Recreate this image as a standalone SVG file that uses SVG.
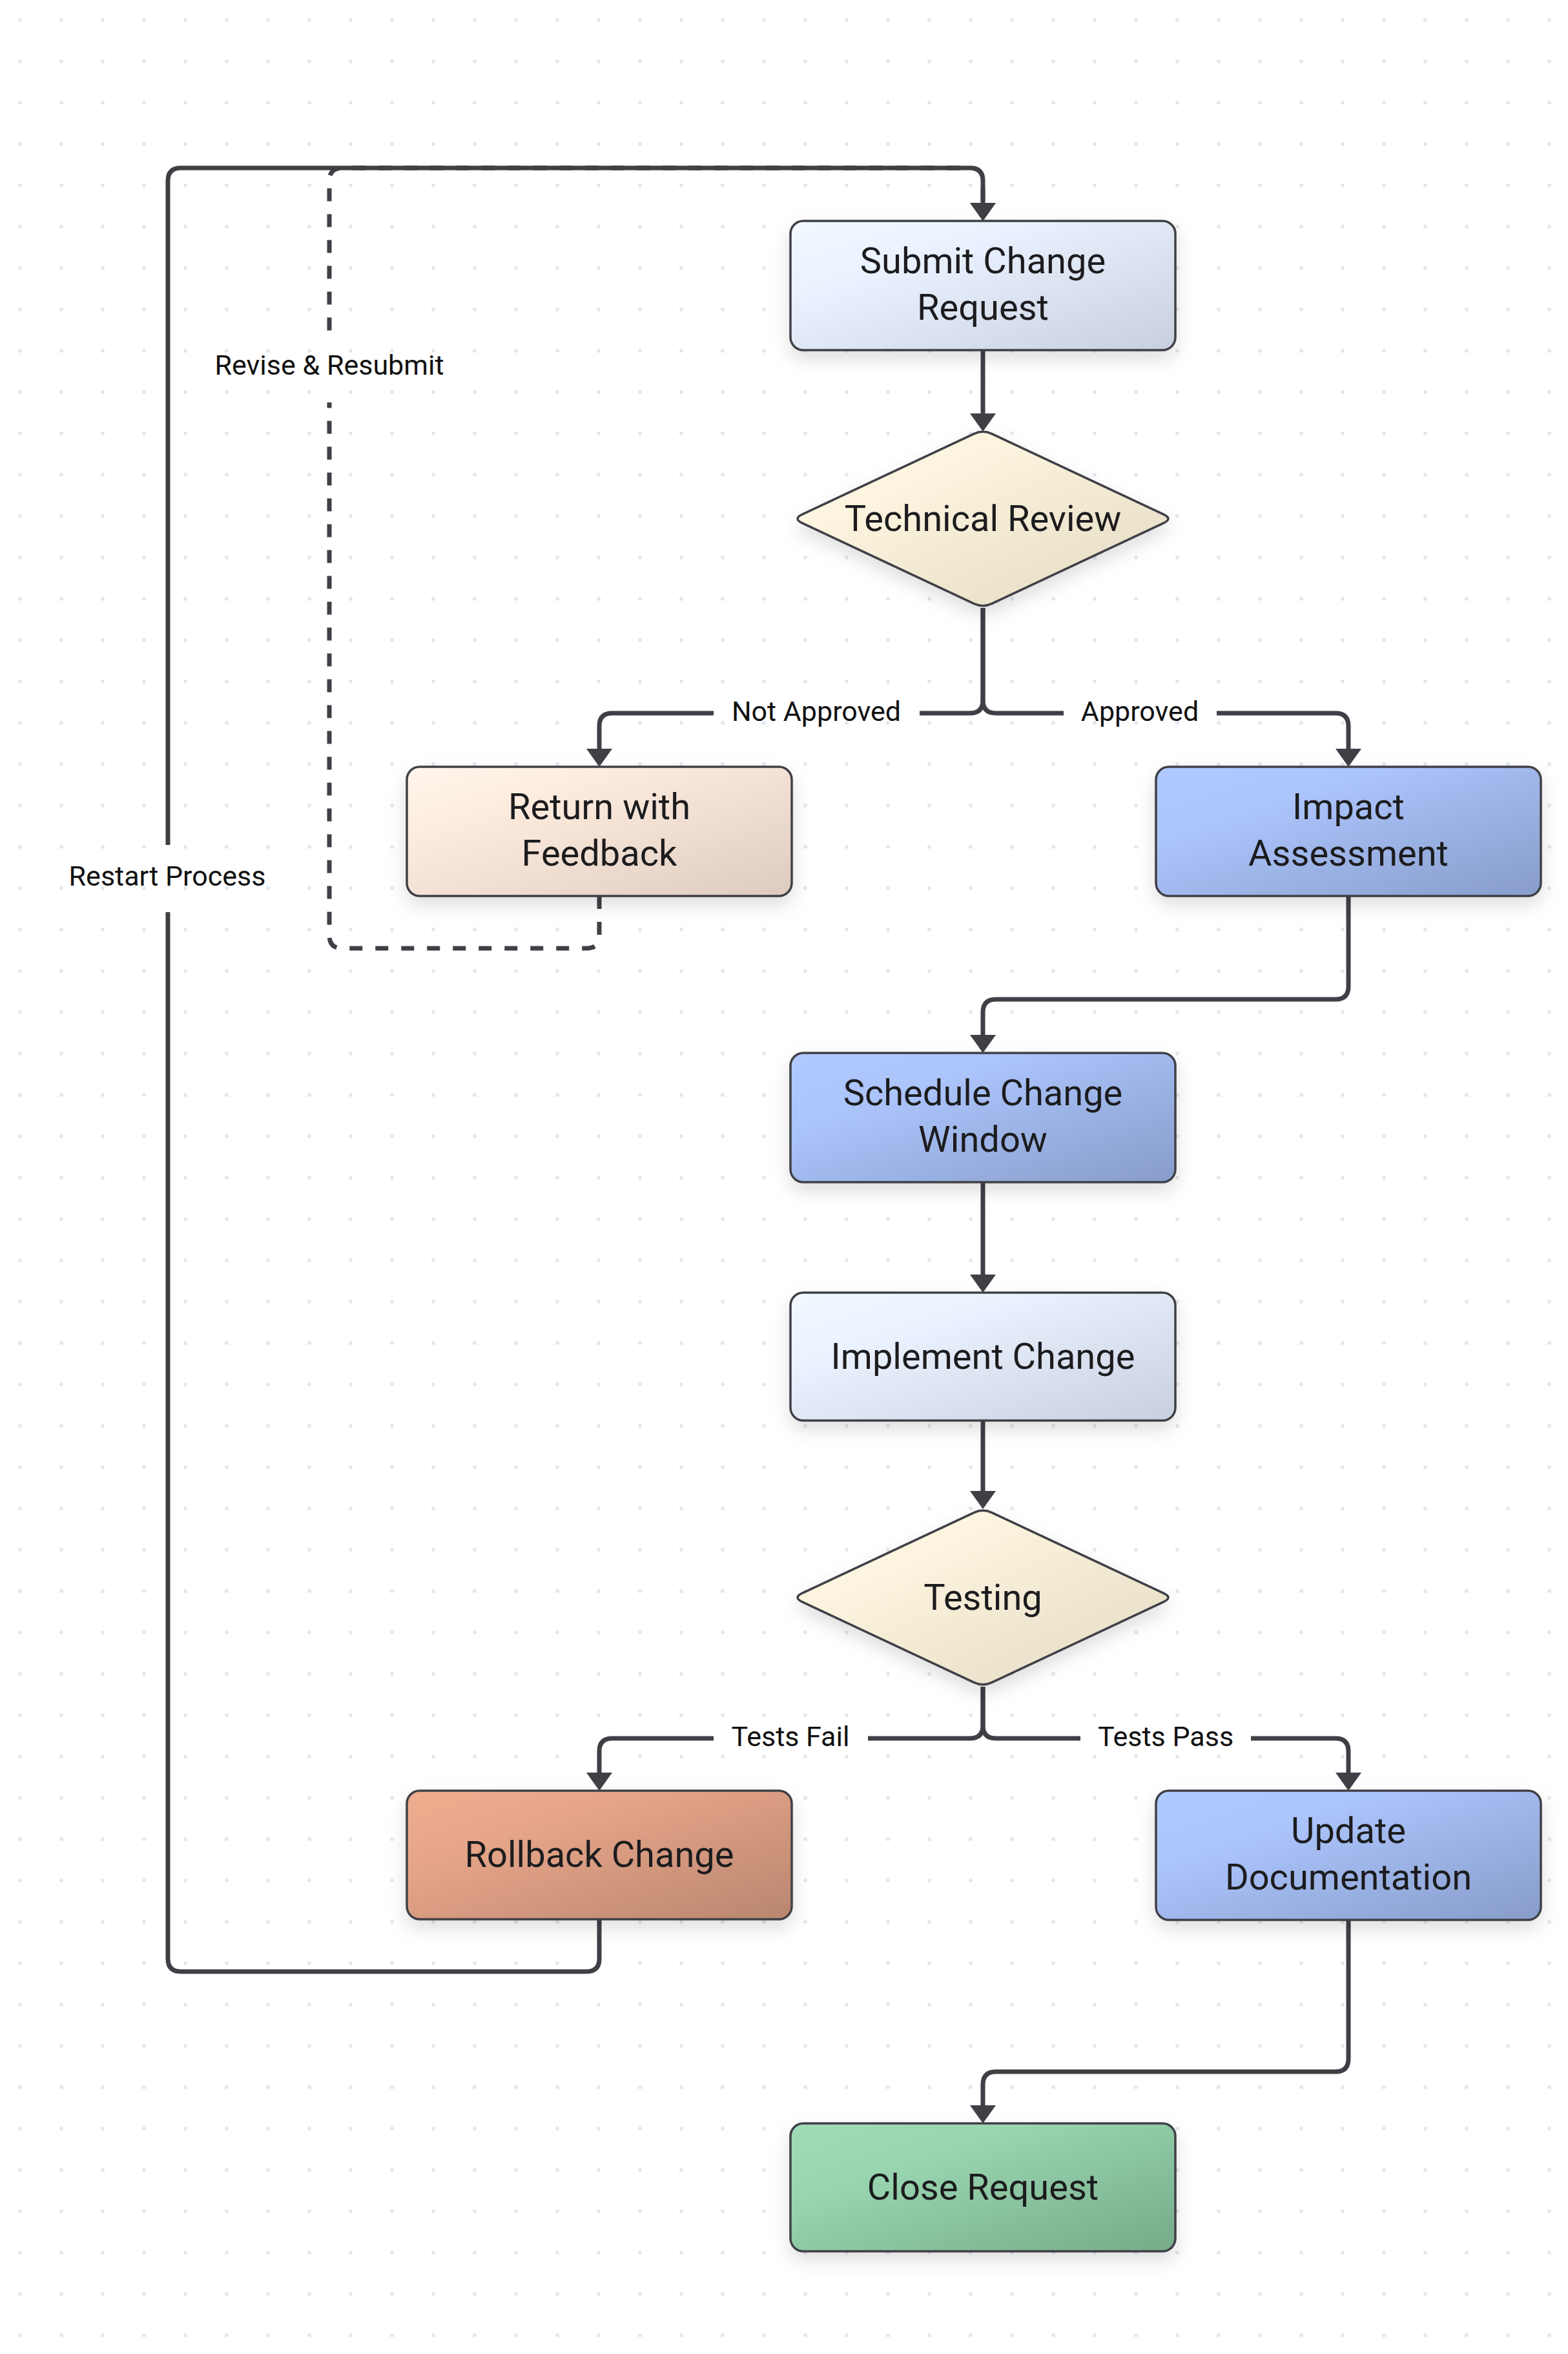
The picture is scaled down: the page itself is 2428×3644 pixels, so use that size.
<svg xmlns="http://www.w3.org/2000/svg" width="2428" height="3644" viewBox="0 0 2428 3644">
<style>
.node-text{font-family:Roboto,"Liberation Sans",sans-serif;font-size:56px;fill:#1c1c1e;text-anchor:middle}
.edge-label{font-family:Roboto,"Liberation Sans",sans-serif;font-size:43px;fill:#111;text-anchor:middle}
.edge{fill:none;stroke:#3f4046;stroke-width:7;stroke-linejoin:round}
.dashed{stroke-dasharray:20 20}
.box{stroke:#3f4046;stroke-width:3.5}
</style>
<defs>
<pattern id="dots" width="64" height="64" patternUnits="userSpaceOnUse">
<circle cx="31" cy="31" r="3" fill="#e2e8f0"/>
</pattern>
<linearGradient id="gNeutral" x1="0" y1="0" x2="1" y2="1">
<stop offset="0" stop-color="#f2f8ff"/><stop offset="0.3" stop-color="#eaf2ff"/><stop offset="1" stop-color="#c8cfdf"/>
</linearGradient>
<linearGradient id="gDecision" x1="0" y1="0" x2="1" y2="1">
<stop offset="0" stop-color="#fff9e4"/><stop offset="0.3" stop-color="#fcf4de"/><stop offset="1" stop-color="#e3d9c2"/>
</linearGradient>
<linearGradient id="gReturn" x1="0" y1="0" x2="1" y2="1">
<stop offset="0" stop-color="#fff6ec"/><stop offset="0.3" stop-color="#fcebdd"/><stop offset="1" stop-color="#ddcbc0"/>
</linearGradient>
<linearGradient id="gBlue" x1="0" y1="0" x2="1" y2="1">
<stop offset="0" stop-color="#b0caff"/><stop offset="0.3" stop-color="#abc4fb"/><stop offset="1" stop-color="#879cca"/>
</linearGradient>
<linearGradient id="gRed" x1="0" y1="0" x2="1" y2="1">
<stop offset="0" stop-color="#f0ae90"/><stop offset="0.3" stop-color="#e6a589"/><stop offset="1" stop-color="#b9866f"/>
</linearGradient>
<linearGradient id="gGreen" x1="0" y1="0" x2="1" y2="1">
<stop offset="0" stop-color="#a0dcb6"/><stop offset="0.3" stop-color="#99d6b0"/><stop offset="1" stop-color="#76aa89"/>
</linearGradient>
<filter id="shadow" x="-20%" y="-20%" width="140%" height="170%">
<feDropShadow dx="0" dy="12" stdDeviation="14" flood-color="#000" flood-opacity="0.13"/>
</filter>
<marker id="arrow" markerUnits="userSpaceOnUse" markerWidth="44" markerHeight="44" viewBox="0 0 44 44" refX="18" refY="22" orient="auto">
<path d="M0,2 L28,22 L0,42 z" fill="#3f4046"/>
</marker>
<mask id="gaps" maskUnits="userSpaceOnUse" x="0" y="0" width="2428" height="3644">
<rect x="0" y="0" width="2428" height="3644" fill="#fff"/>
<rect x="1105" y="1054" width="319" height="100" fill="#000"/>
<rect x="1647" y="1054" width="237" height="100" fill="#000"/>
<rect x="1105" y="2641" width="239" height="100" fill="#000"/>
<rect x="1673" y="2641" width="264" height="100" fill="#000"/>
<rect x="304" y="512" width="412" height="111" fill="#000"/>
<rect x="79" y="1308" width="360" height="104" fill="#000"/>
</mask>
</defs>
<rect x="0" y="0" width="2428" height="3644" fill="#fff"/>
<rect x="0" y="0" width="2428" height="3644" fill="url(#dots)"/>

<g id="connectors">
<g mask="url(#gaps)">
<path class="edge dashed" d="M928 1387 V1448 Q928 1468 908 1468 H530 Q510 1468 510 1448 V280 Q510 260 530 260 H1502 Q1522 260 1522 280 V332" marker-end="url(#arrow)"/>
<path class="edge" d="M928 2971 V3032 Q928 3052 908 3052 H280 Q260 3052 260 3032 V280 Q260 260 280 260 H1502 Q1522 260 1522 280 V332" marker-end="url(#arrow)"/>
<path class="edge" d="M1522 542 V658" marker-end="url(#arrow)"/>
<path class="edge" d="M1522 941 V1084 Q1522 1104 1502 1104 H948 Q928 1104 928 1124 V1177" marker-end="url(#arrow)"/>
<path class="edge" d="M1522 941 V1084 Q1522 1104 1542 1104 H2068 Q2088 1104 2088 1124 V1177" marker-end="url(#arrow)"/>
<path class="edge" d="M2088 1387 V1527 Q2088 1547 2068 1547 H1542 Q1522 1547 1522 1567 V1620" marker-end="url(#arrow)"/>
<path class="edge" d="M1522 1830 V1991" marker-end="url(#arrow)"/>
<path class="edge" d="M1522 2199 V2326" marker-end="url(#arrow)"/>
<path class="edge" d="M1522 2611 V2671 Q1522 2691 1502 2691 H948 Q928 2691 928 2711 V2762" marker-end="url(#arrow)"/>
<path class="edge" d="M1522 2611 V2671 Q1522 2691 1542 2691 H2068 Q2088 2691 2088 2711 V2762" marker-end="url(#arrow)"/>
<path class="edge" d="M2088 2972 V3187 Q2088 3207 2068 3207 H1542 Q1522 3207 1522 3227 V3277" marker-end="url(#arrow)"/>
</g>
<g id="edge-labels">
<text class="edge-label" x="1264" y="1116">Not Approved</text>
<text class="edge-label" x="1765" y="1116">Approved</text>
<text class="edge-label" x="1224" y="2703">Tests Fail</text>
<text class="edge-label" x="1805" y="2703">Tests Pass</text>
<text class="edge-label" x="510" y="580">Revise &amp; Resubmit</text>
<text class="edge-label" x="259" y="1371">Restart Process</text>
</g>
</g>

<g id="node-submit">
<rect class="box" x="1224" y="342" width="596" height="200" rx="20" fill="url(#gNeutral)" filter="url(#shadow)"/>
<text class="node-text" x="1522" y="423">Submit Change</text>
<text class="node-text" x="1522" y="495">Request</text>
</g>
<g id="node-technical-review">
<path class="box" d="M1508 671.6 Q1522 665 1536 671.6 L1802 796.4 Q1816 803 1802 809.6 L1536 934.4 Q1522 941 1508 934.4 L1242 809.6 Q1228 803 1242 796.4 Z" fill="url(#gDecision)" filter="url(#shadow)"/>
<text class="node-text" x="1522" y="822">Technical Review</text>
</g>
<g id="node-return">
<rect class="box" x="630" y="1187" width="596" height="200" rx="20" fill="url(#gReturn)" filter="url(#shadow)"/>
<text class="node-text" x="928" y="1268">Return with</text>
<text class="node-text" x="928" y="1340">Feedback</text>
</g>
<g id="node-impact">
<rect class="box" x="1790" y="1187" width="596" height="200" rx="20" fill="url(#gBlue)" filter="url(#shadow)"/>
<text class="node-text" x="2088" y="1268">Impact</text>
<text class="node-text" x="2088" y="1340">Assessment</text>
</g>
<g id="node-schedule">
<rect class="box" x="1224" y="1630" width="596" height="200" rx="20" fill="url(#gBlue)" filter="url(#shadow)"/>
<text class="node-text" x="1522" y="1711">Schedule Change</text>
<text class="node-text" x="1522" y="1783">Window</text>
</g>
<g id="node-implement">
<rect class="box" x="1224" y="2001" width="596" height="198" rx="20" fill="url(#gNeutral)" filter="url(#shadow)"/>
<text class="node-text" x="1522" y="2119">Implement Change</text>
</g>
<g id="node-testing">
<path class="box" d="M1508 2341.6 Q1522 2335 1536 2341.6 L1802 2466.4 Q1816 2473 1802 2479.6 L1536 2604.4 Q1522 2611 1508 2604.4 L1242 2479.6 Q1228 2473 1242 2466.4 Z" fill="url(#gDecision)" filter="url(#shadow)"/>
<text class="node-text" x="1522" y="2492">Testing</text>
</g>
<g id="node-rollback">
<rect class="box" x="630" y="2772" width="596" height="199" rx="20" fill="url(#gRed)" filter="url(#shadow)"/>
<text class="node-text" x="928" y="2890">Rollback Change</text>
</g>
<g id="node-update">
<rect class="box" x="1790" y="2772" width="596" height="200" rx="20" fill="url(#gBlue)" filter="url(#shadow)"/>
<text class="node-text" x="2088" y="2853">Update</text>
<text class="node-text" x="2088" y="2925">Documentation</text>
</g>
<g id="node-close">
<rect class="box" x="1224" y="3287" width="596" height="198" rx="20" fill="url(#gGreen)" filter="url(#shadow)"/>
<text class="node-text" x="1522" y="3405">Close Request</text>
</g>
</svg>
